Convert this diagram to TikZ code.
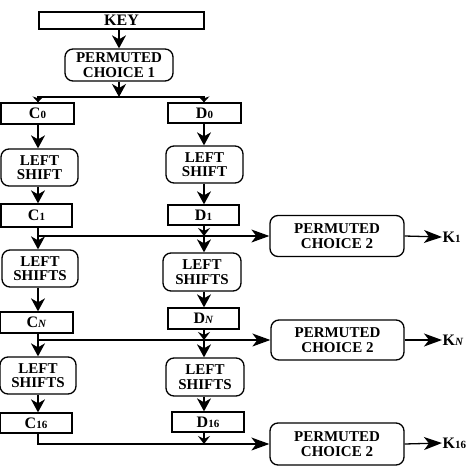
\documentclass[tikz,border=0pt]{standalone}
\usepackage{fontspec}
\setmainfont{Liberation Serif}
\usetikzlibrary{arrows.meta,calc}
\newcommand\subtxt[1]{{\fontsize{11}{11}\selectfont #1}}
\begin{document}
\begin{tikzpicture}[x=1pt,y=-1pt,line width=1.3pt,
  box/.style={draw,rectangle,inner sep=0pt,minimum height=21pt,font=\fontsize{16}{16}\selectfont\bfseries},
  rbox/.style={draw,rounded corners=8pt,align=center,inner sep=0pt,font=\fontsize{15}{14.5}\selectfont\bfseries},
  lab/.style={inner sep=0pt,anchor=west,font=\fontsize{16}{16}\selectfont\bfseries},
  arr/.style={-{Stealth[length=13pt,width=14pt,inset=4pt]}},
  harr/.style={-{Stealth[length=18pt,width=13pt,inset=5pt]}},
  smallarr/.style={-{Stealth[length=8pt,width=12pt,inset=3pt]}},
  tinyarr/.style={{Stealth[length=6pt,width=11pt,inset=2pt]}-{Stealth[length=6pt,width=11pt,inset=2pt]}}]
\useasboundingbox (0,0) rectangle (474,474);
\coordinate (colC) at (38,0);
\coordinate (colD) at (204,0);
% top
\node[box,minimum width=165pt,minimum height=17pt] (key) at (121.5,20.5) {KEY};
\node[rbox,minimum width=108pt,minimum height=32pt] (pc1) at (119,65) {PERMUTED\\CHOICE 1};
\coordinate (split) at (119,97);
% row 0
\node[box,minimum width=73pt] (c0) at (37.5,113.5) {C\subtxt{0}};
\node[box,minimum width=73pt,minimum height=20pt] (d0) at (204.5,113) {D\subtxt{0}};
\node[rbox,minimum width=77pt,minimum height=37pt] (ls1c) at (39.5,167.5) {LEFT\\SHIFT};
\node[rbox,minimum width=77pt,minimum height=37pt] (ls1d) at (204.5,164.5) {LEFT\\SHIFT};
\node[box,minimum width=71pt,minimum height=23pt] (c1) at (36.5,215.5) {C\subtxt{1}};
\node[box,minimum width=71pt,minimum height=20pt] (d1) at (203.5,215) {D\subtxt{1}};
\node[rbox,minimum width=134pt,minimum height=41pt] (pc2a) at (337,236) {PERMUTED\\CHOICE 2};
\node[lab] (k1) at (442,237) {K\subtxt{1}};
% row N
\node[rbox,minimum width=76pt,minimum height=37pt] (ls2c) at (40,268.5) {LEFT\\SHIFTS};
\node[rbox,minimum width=78pt,minimum height=38pt] (ls2d) at (202,272) {LEFT\\SHIFTS};
\node[box,minimum width=73pt] (cn) at (36.5,322.5) {C\subtxt{\textit{N}}};
\node[box,minimum width=71pt] (dn) at (203.5,318.5) {D\subtxt{\textit{N}}};
\node[rbox,minimum width=133pt,minimum height=40pt] (pc2b) at (337.5,340) {PERMUTED\\CHOICE 2};
\node[lab] (kn) at (442,340) {K\subtxt{\textit{N}}};
% row 16
\node[rbox,minimum width=76pt,minimum height=37pt] (ls3c) at (38,375.5) {LEFT\\SHIFTS};
\node[rbox,minimum width=78pt,minimum height=38pt] (ls3d) at (205,377) {LEFT\\SHIFTS};
\node[box,minimum width=72pt,minimum height=20pt] (c16) at (36,423) {C\subtxt{16}};
\node[box,minimum width=72pt,minimum height=20pt] (d16) at (208,422) {D\subtxt{16}};
\node[rbox,minimum width=134pt,minimum height=42pt] (pc2c) at (337,444) {PERMUTED\\CHOICE 2};
\node[lab] (k16) at (442,443) {K\subtxt{16}};
% connectors top
\draw[arr] (key.south -| pc1) -- (pc1.north);
\draw[arr] (pc1.south) -- (split);
\draw[tinyarr] (c0.north -| colC) -- (colC |- split) -- (colD |- split) -- (d0.north -| colD);
% column C/D row 1
\draw[arr] (c0.south -| colC) -- (ls1c.north -| colC);
\draw[arr] (ls1c.south -| colC) -- (c1.north -| colC);
\draw[arr] (d0.south -| colD) -- (ls1d.north -| colD);
\draw[arr] (ls1d.south -| colD) -- (d1.north -| colD);
\draw[harr] (c1.south -| colC) |- (pc2a.west);
\draw[harr] (pc2a.east) -- (k1.west);
\draw[arr] (colC |- pc2a.west) -- (ls2c.north -| colC);
\draw[smallarr] (d1.south -| colD) -- (colD |- pc2a.west);
\draw[arr] (colD |- pc2a.west) -- (ls2d.north -| colD);
% row N
\draw[arr] (ls2c.south -| colC) -- (cn.north -| colC);
\draw[arr] (ls2d.south -| colD) -- (dn.north -| colD);
\draw[harr] (cn.south -| colC) |- (pc2b.west);
\draw[harr] (pc2b.east) -- (kn.west);
\draw[arr] (colC |- pc2b.west) -- (ls3c.north -| colC);
\draw[smallarr] (dn.south -| colD) -- (colD |- pc2b.west);
\draw[arr] (colD |- pc2b.west) -- (ls3d.north -| colD);
% row 16
\draw[arr] (ls3c.south -| colC) -- (c16.north -| colC);
\draw[arr] (ls3d.south -| colD) -- (d16.north -| colD);
\draw[harr] (c16.south -| colC) |- (pc2c.west);
\draw[smallarr] (d16.south -| colD) -- (colD |- pc2c.west);
\draw[harr] (pc2c.east) -- (k16.west);
\end{tikzpicture}
\end{document}
